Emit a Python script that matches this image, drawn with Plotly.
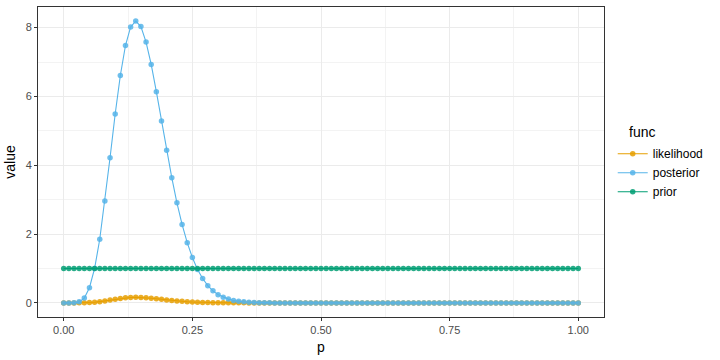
import numpy as np
import plotly.graph_objects as go

p = np.round(np.linspace(0, 1, 101), 2)

posterior_head = [0, 0, 0.003, 0.03, 0.14, 0.44, 1.00, 1.85, 2.96, 4.22,
                  5.49, 6.61, 7.48, 8.02, 8.19, 8.03, 7.58, 6.93, 6.14, 5.29,
                  4.44, 3.64, 2.91, 2.28, 1.75, 1.32, 0.97, 0.71, 0.50, 0.35,
                  0.24, 0.165, 0.11, 0.072, 0.047, 0.030, 0.019, 0.012, 0.007, 0.004,
                  0.002]
likelihood_head = [0, 0, 0.0001, 0.0006, 0.0028, 0.0086, 0.0196, 0.0363, 0.0580, 0.0827,
                   0.1076, 0.1296, 0.1467, 0.1573, 0.1606, 0.1575, 0.1486, 0.1359, 0.1204, 0.1037,
                   0.0871, 0.0714, 0.0571, 0.0447, 0.0343, 0.0259, 0.0190, 0.0139, 0.0098, 0.0069,
                   0.0047, 0.0032, 0.0022, 0.0014, 0.0009, 0.0006, 0.0004, 0.0002, 0.0001, 0.0001,
                   0.0000]
posterior = posterior_head + [0.0] * (101 - len(posterior_head))
likelihood = likelihood_head + [0.0] * (101 - len(likelihood_head))
prior = [1.0] * 101

series = [("likelihood", likelihood, "#E69F00"),
          ("posterior", posterior, "#56B4E9"),
          ("prior", prior, "#009E73")]

fig = go.Figure()
for name, vals, col in series:
    fig.add_trace(go.Scatter(
        x=p, y=vals, name=name, mode="lines+markers",
        line=dict(color=col, width=1.1),
        marker=dict(color=col, size=5.5, opacity=0.85, line=dict(width=0)),
    ))

font = "Liberation Sans, Arial, sans-serif"
axis_common = dict(
    showline=True, linecolor="#333333", linewidth=1, mirror=True,
    ticks="outside", ticklen=3, tickcolor="#333333", tickwidth=1,
    gridcolor="#EBEBEB", gridwidth=1, zeroline=False,
    tickfont=dict(family=font, size=11, color="#4D4D4D"),
)
fig.update_layout(
    width=720, height=360,
    margin=dict(l=38, r=116, t=7, b=43, autoexpand=False),
    plot_bgcolor="white", paper_bgcolor="white",
    font=dict(family=font),
    xaxis=dict(range=[-0.05, 1.05], tickvals=[0, 0.25, 0.5, 0.75, 1.0],
               ticktext=["0.00", "0.25", "0.50", "0.75", "1.00"],
               minor=dict(tickvals=[0.125, 0.375, 0.625, 0.875], showgrid=True,
                          gridcolor="#F3F3F3", gridwidth=0.6, ticks=""),
               title=dict(text="p", font=dict(family=font, size=14, color="black"), standoff=6),
               **axis_common),
    yaxis=dict(range=[-0.41, 8.60], tickvals=[0, 2, 4, 6, 8],
               minor=dict(tickvals=[1, 3, 5, 7], showgrid=True,
                          gridcolor="#F3F3F3", gridwidth=0.6, ticks=""),
               title=dict(text="value", font=dict(family=font, size=14, color="black"), standoff=6),
               **axis_common),
    legend=dict(xref="container", yref="container", x=0.851, y=0.6133,
                xanchor="left", yanchor="top",
                font=dict(family=font, size=12, color="black"),
                tracegroupgap=0, itemwidth=30, bgcolor="rgba(0,0,0,0)"),
    annotations=[dict(text="func", xref="paper", yref="paper",
                      x=(627 - 38) / 566, y=(317 - 132) / 310,
                      xanchor="left", yanchor="middle", showarrow=False,
                      font=dict(family=font, size=14, color="black"))],
)

fig.write_html("out.html")
